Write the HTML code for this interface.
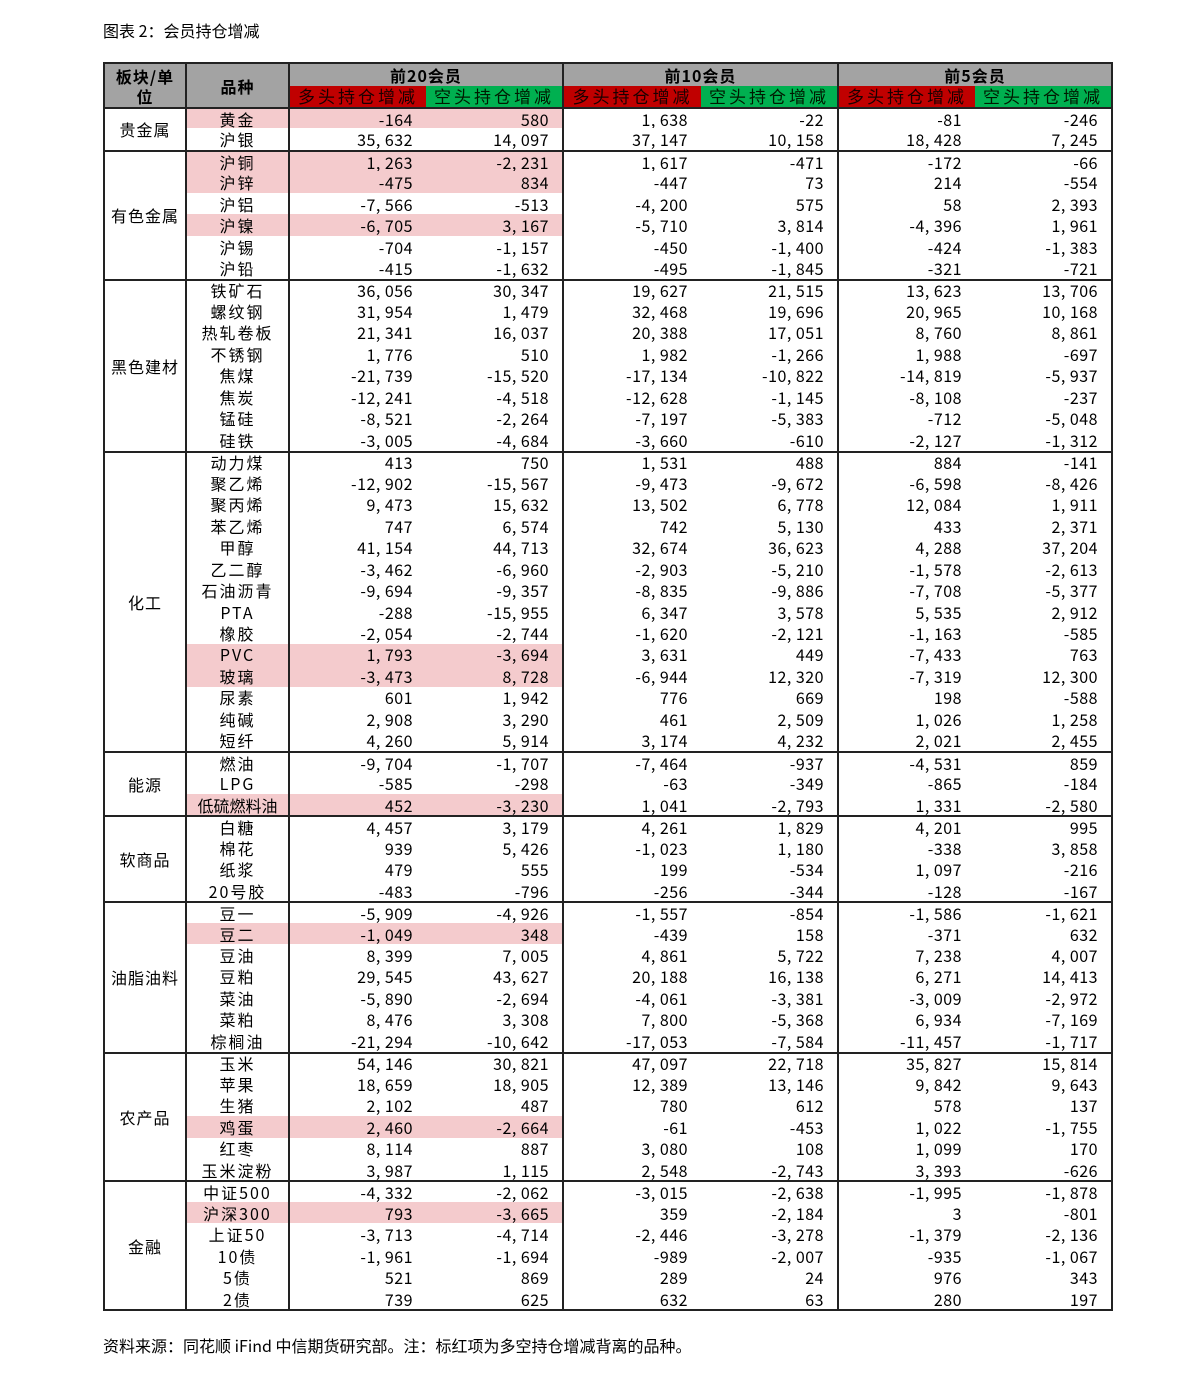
<!DOCTYPE html>
<html><head><meta charset="utf-8"><style>
body{margin:0;background:#fff;width:1191px;height:1373px;position:relative;font-family:"WenQuanYi Zen Hei","Noto Sans CJK SC",sans-serif;color:#000}
.t{position:absolute;left:103px;top:18px;font-size:16px}
.f{position:absolute;left:103px;top:1333px;font-size:16px}
table{position:absolute;left:103px;top:62px;border-collapse:collapse;table-layout:fixed;font-size:16px;border:2px solid #222}
td{padding:0;white-space:nowrap;line-height:18px;height:21.48px;overflow:hidden}
tr.s td{height:19.48px}
td.n{text-align:right;padding-right:13px;letter-spacing:0.5px}
td.c{text-align:center}
td.v{border-right:2px solid #222}
td.k{text-align:center;border-right:2px solid #222;letter-spacing:2px}
.h td{background:#a3a3a3;font-weight:bold;text-align:center;letter-spacing:1px;line-height:18px}
.h td.r{background:#c00000;color:#1a0000;font-weight:normal;letter-spacing:3px;font-size:17px}
.h td.g{background:#00b050;color:#001a00;font-weight:normal;letter-spacing:3px;font-size:17px}
tr.p td.c,tr.p td.n.a{background:#f4cbcd}
tr.s td{border-top:2px solid #222}
td.gr{text-align:center;border-right:2px solid #222;border-top:2px solid #222;letter-spacing:1px}
</style></head><body>
<div class="t">图表 2：会员持仓增减</div>
<table>
<colgroup><col style="width:82px"><col style="width:103px"><col style="width:137px"><col style="width:137px"><col style="width:138px"><col style="width:137px"><col style="width:137px"><col style="width:137px"></colgroup>
<tr class="h"><td rowspan="2" style="border-right:2px solid #222;line-height:20px;height:43px">板块/单<br>位</td><td rowspan="2" style="border-right:2px solid #222">品种</td><td colspan="2" style="border-right:2px solid #222;height:21px">前20会员</td><td colspan="2" style="border-right:2px solid #222">前10会员</td><td colspan="2">前5会员</td></tr>
<tr class="h"><td class="r" style="height:21px">多头持仓增减</td><td class="g" style="border-right:2px solid #222">空头持仓增减</td><td class="r">多头持仓增减</td><td class="g" style="border-right:2px solid #222">空头持仓增减</td><td class="r">多头持仓增减</td><td class="g">空头持仓增减</td></tr>
<tr class="s p"><td class="gr" rowspan="2">贵金属</td><td class="c k">黄金</td><td class="n a">-164</td><td class="n a v">580</td><td class="n">1, 638</td><td class="n v">-22</td><td class="n">-81</td><td class="n">-246</td></tr>
<tr><td class="c k">沪银</td><td class="n">35, 632</td><td class="n v">14, 097</td><td class="n">37, 147</td><td class="n v">10, 158</td><td class="n">18, 428</td><td class="n">7, 245</td></tr>
<tr class="s p"><td class="gr" rowspan="6">有色金属</td><td class="c k">沪铜</td><td class="n a">1, 263</td><td class="n a v">-2, 231</td><td class="n">1, 617</td><td class="n v">-471</td><td class="n">-172</td><td class="n">-66</td></tr>
<tr class="p"><td class="c k">沪锌</td><td class="n a">-475</td><td class="n a v">834</td><td class="n">-447</td><td class="n v">73</td><td class="n">214</td><td class="n">-554</td></tr>
<tr><td class="c k">沪铝</td><td class="n">-7, 566</td><td class="n v">-513</td><td class="n">-4, 200</td><td class="n v">575</td><td class="n">58</td><td class="n">2, 393</td></tr>
<tr class="p"><td class="c k">沪镍</td><td class="n a">-6, 705</td><td class="n a v">3, 167</td><td class="n">-5, 710</td><td class="n v">3, 814</td><td class="n">-4, 396</td><td class="n">1, 961</td></tr>
<tr><td class="c k">沪锡</td><td class="n">-704</td><td class="n v">-1, 157</td><td class="n">-450</td><td class="n v">-1, 400</td><td class="n">-424</td><td class="n">-1, 383</td></tr>
<tr><td class="c k">沪铅</td><td class="n">-415</td><td class="n v">-1, 632</td><td class="n">-495</td><td class="n v">-1, 845</td><td class="n">-321</td><td class="n">-721</td></tr>
<tr class="s"><td class="gr" rowspan="8">黑色建材</td><td class="c k">铁矿石</td><td class="n">36, 056</td><td class="n v">30, 347</td><td class="n">19, 627</td><td class="n v">21, 515</td><td class="n">13, 623</td><td class="n">13, 706</td></tr>
<tr><td class="c k">螺纹钢</td><td class="n">31, 954</td><td class="n v">1, 479</td><td class="n">32, 468</td><td class="n v">19, 696</td><td class="n">20, 965</td><td class="n">10, 168</td></tr>
<tr><td class="c k">热轧卷板</td><td class="n">21, 341</td><td class="n v">16, 037</td><td class="n">20, 388</td><td class="n v">17, 051</td><td class="n">8, 760</td><td class="n">8, 861</td></tr>
<tr><td class="c k">不锈钢</td><td class="n">1, 776</td><td class="n v">510</td><td class="n">1, 982</td><td class="n v">-1, 266</td><td class="n">1, 988</td><td class="n">-697</td></tr>
<tr><td class="c k">焦煤</td><td class="n">-21, 739</td><td class="n v">-15, 520</td><td class="n">-17, 134</td><td class="n v">-10, 822</td><td class="n">-14, 819</td><td class="n">-5, 937</td></tr>
<tr><td class="c k">焦炭</td><td class="n">-12, 241</td><td class="n v">-4, 518</td><td class="n">-12, 628</td><td class="n v">-1, 145</td><td class="n">-8, 108</td><td class="n">-237</td></tr>
<tr><td class="c k">锰硅</td><td class="n">-8, 521</td><td class="n v">-2, 264</td><td class="n">-7, 197</td><td class="n v">-5, 383</td><td class="n">-712</td><td class="n">-5, 048</td></tr>
<tr><td class="c k">硅铁</td><td class="n">-3, 005</td><td class="n v">-4, 684</td><td class="n">-3, 660</td><td class="n v">-610</td><td class="n">-2, 127</td><td class="n">-1, 312</td></tr>
<tr class="s"><td class="gr" rowspan="14">化工</td><td class="c k">动力煤</td><td class="n">413</td><td class="n v">750</td><td class="n">1, 531</td><td class="n v">488</td><td class="n">884</td><td class="n">-141</td></tr>
<tr><td class="c k">聚乙烯</td><td class="n">-12, 902</td><td class="n v">-15, 567</td><td class="n">-9, 473</td><td class="n v">-9, 672</td><td class="n">-6, 598</td><td class="n">-8, 426</td></tr>
<tr><td class="c k">聚丙烯</td><td class="n">9, 473</td><td class="n v">15, 632</td><td class="n">13, 502</td><td class="n v">6, 778</td><td class="n">12, 084</td><td class="n">1, 911</td></tr>
<tr><td class="c k">苯乙烯</td><td class="n">747</td><td class="n v">6, 574</td><td class="n">742</td><td class="n v">5, 130</td><td class="n">433</td><td class="n">2, 371</td></tr>
<tr><td class="c k">甲醇</td><td class="n">41, 154</td><td class="n v">44, 713</td><td class="n">32, 674</td><td class="n v">36, 623</td><td class="n">4, 288</td><td class="n">37, 204</td></tr>
<tr><td class="c k">乙二醇</td><td class="n">-3, 462</td><td class="n v">-6, 960</td><td class="n">-2, 903</td><td class="n v">-5, 210</td><td class="n">-1, 578</td><td class="n">-2, 613</td></tr>
<tr><td class="c k">石油沥青</td><td class="n">-9, 694</td><td class="n v">-9, 357</td><td class="n">-8, 835</td><td class="n v">-9, 886</td><td class="n">-7, 708</td><td class="n">-5, 377</td></tr>
<tr><td class="c k">PTA</td><td class="n">-288</td><td class="n v">-15, 955</td><td class="n">6, 347</td><td class="n v">3, 578</td><td class="n">5, 535</td><td class="n">2, 912</td></tr>
<tr><td class="c k">橡胶</td><td class="n">-2, 054</td><td class="n v">-2, 744</td><td class="n">-1, 620</td><td class="n v">-2, 121</td><td class="n">-1, 163</td><td class="n">-585</td></tr>
<tr class="p"><td class="c k">PVC</td><td class="n a">1, 793</td><td class="n a v">-3, 694</td><td class="n">3, 631</td><td class="n v">449</td><td class="n">-7, 433</td><td class="n">763</td></tr>
<tr class="p"><td class="c k">玻璃</td><td class="n a">-3, 473</td><td class="n a v">8, 728</td><td class="n">-6, 944</td><td class="n v">12, 320</td><td class="n">-7, 319</td><td class="n">12, 300</td></tr>
<tr><td class="c k">尿素</td><td class="n">601</td><td class="n v">1, 942</td><td class="n">776</td><td class="n v">669</td><td class="n">198</td><td class="n">-588</td></tr>
<tr><td class="c k">纯碱</td><td class="n">2, 908</td><td class="n v">3, 290</td><td class="n">461</td><td class="n v">2, 509</td><td class="n">1, 026</td><td class="n">1, 258</td></tr>
<tr><td class="c k">短纤</td><td class="n">4, 260</td><td class="n v">5, 914</td><td class="n">3, 174</td><td class="n v">4, 232</td><td class="n">2, 021</td><td class="n">2, 455</td></tr>
<tr class="s"><td class="gr" rowspan="3">能源</td><td class="c k">燃油</td><td class="n">-9, 704</td><td class="n v">-1, 707</td><td class="n">-7, 464</td><td class="n v">-937</td><td class="n">-4, 531</td><td class="n">859</td></tr>
<tr><td class="c k">LPG</td><td class="n">-585</td><td class="n v">-298</td><td class="n">-63</td><td class="n v">-349</td><td class="n">-865</td><td class="n">-184</td></tr>
<tr class="p"><td class="c k" style="letter-spacing:0">低硫燃料油</td><td class="n a">452</td><td class="n a v">-3, 230</td><td class="n">1, 041</td><td class="n v">-2, 793</td><td class="n">1, 331</td><td class="n">-2, 580</td></tr>
<tr class="s"><td class="gr" rowspan="4">软商品</td><td class="c k">白糖</td><td class="n">4, 457</td><td class="n v">3, 179</td><td class="n">4, 261</td><td class="n v">1, 829</td><td class="n">4, 201</td><td class="n">995</td></tr>
<tr><td class="c k">棉花</td><td class="n">939</td><td class="n v">5, 426</td><td class="n">-1, 023</td><td class="n v">1, 180</td><td class="n">-338</td><td class="n">3, 858</td></tr>
<tr><td class="c k">纸浆</td><td class="n">479</td><td class="n v">555</td><td class="n">199</td><td class="n v">-534</td><td class="n">1, 097</td><td class="n">-216</td></tr>
<tr><td class="c k">20号胶</td><td class="n">-483</td><td class="n v">-796</td><td class="n">-256</td><td class="n v">-344</td><td class="n">-128</td><td class="n">-167</td></tr>
<tr class="s"><td class="gr" rowspan="7">油脂油料</td><td class="c k">豆一</td><td class="n">-5, 909</td><td class="n v">-4, 926</td><td class="n">-1, 557</td><td class="n v">-854</td><td class="n">-1, 586</td><td class="n">-1, 621</td></tr>
<tr class="p"><td class="c k">豆二</td><td class="n a">-1, 049</td><td class="n a v">348</td><td class="n">-439</td><td class="n v">158</td><td class="n">-371</td><td class="n">632</td></tr>
<tr><td class="c k">豆油</td><td class="n">8, 399</td><td class="n v">7, 005</td><td class="n">4, 861</td><td class="n v">5, 722</td><td class="n">7, 238</td><td class="n">4, 007</td></tr>
<tr><td class="c k">豆粕</td><td class="n">29, 545</td><td class="n v">43, 627</td><td class="n">20, 188</td><td class="n v">16, 138</td><td class="n">6, 271</td><td class="n">14, 413</td></tr>
<tr><td class="c k">菜油</td><td class="n">-5, 890</td><td class="n v">-2, 694</td><td class="n">-4, 061</td><td class="n v">-3, 381</td><td class="n">-3, 009</td><td class="n">-2, 972</td></tr>
<tr><td class="c k">菜粕</td><td class="n">8, 476</td><td class="n v">3, 308</td><td class="n">7, 800</td><td class="n v">-5, 368</td><td class="n">6, 934</td><td class="n">-7, 169</td></tr>
<tr><td class="c k">棕榈油</td><td class="n">-21, 294</td><td class="n v">-10, 642</td><td class="n">-17, 053</td><td class="n v">-7, 584</td><td class="n">-11, 457</td><td class="n">-1, 717</td></tr>
<tr class="s"><td class="gr" rowspan="6">农产品</td><td class="c k">玉米</td><td class="n">54, 146</td><td class="n v">30, 821</td><td class="n">47, 097</td><td class="n v">22, 718</td><td class="n">35, 827</td><td class="n">15, 814</td></tr>
<tr><td class="c k">苹果</td><td class="n">18, 659</td><td class="n v">18, 905</td><td class="n">12, 389</td><td class="n v">13, 146</td><td class="n">9, 842</td><td class="n">9, 643</td></tr>
<tr><td class="c k">生猪</td><td class="n">2, 102</td><td class="n v">487</td><td class="n">780</td><td class="n v">612</td><td class="n">578</td><td class="n">137</td></tr>
<tr class="p"><td class="c k">鸡蛋</td><td class="n a">2, 460</td><td class="n a v">-2, 664</td><td class="n">-61</td><td class="n v">-453</td><td class="n">1, 022</td><td class="n">-1, 755</td></tr>
<tr><td class="c k">红枣</td><td class="n">8, 114</td><td class="n v">887</td><td class="n">3, 080</td><td class="n v">108</td><td class="n">1, 099</td><td class="n">170</td></tr>
<tr><td class="c k">玉米淀粉</td><td class="n">3, 987</td><td class="n v">1, 115</td><td class="n">2, 548</td><td class="n v">-2, 743</td><td class="n">3, 393</td><td class="n">-626</td></tr>
<tr class="s"><td class="gr" rowspan="6">金融</td><td class="c k">中证500</td><td class="n">-4, 332</td><td class="n v">-2, 062</td><td class="n">-3, 015</td><td class="n v">-2, 638</td><td class="n">-1, 995</td><td class="n">-1, 878</td></tr>
<tr class="p"><td class="c k">沪深300</td><td class="n a">793</td><td class="n a v">-3, 665</td><td class="n">359</td><td class="n v">-2, 184</td><td class="n">3</td><td class="n">-801</td></tr>
<tr><td class="c k">上证50</td><td class="n">-3, 713</td><td class="n v">-4, 714</td><td class="n">-2, 446</td><td class="n v">-3, 278</td><td class="n">-1, 379</td><td class="n">-2, 136</td></tr>
<tr><td class="c k">10债</td><td class="n">-1, 961</td><td class="n v">-1, 694</td><td class="n">-989</td><td class="n v">-2, 007</td><td class="n">-935</td><td class="n">-1, 067</td></tr>
<tr><td class="c k">5债</td><td class="n">521</td><td class="n v">869</td><td class="n">289</td><td class="n v">24</td><td class="n">976</td><td class="n">343</td></tr>
<tr><td class="c k">2债</td><td class="n">739</td><td class="n v">625</td><td class="n">632</td><td class="n v">63</td><td class="n">280</td><td class="n">197</td></tr>
</table>
<div class="f">资料来源：同花顺 iFind 中信期货研究部。注：标红项为多空持仓增减背离的品种。</div>
</body></html>
